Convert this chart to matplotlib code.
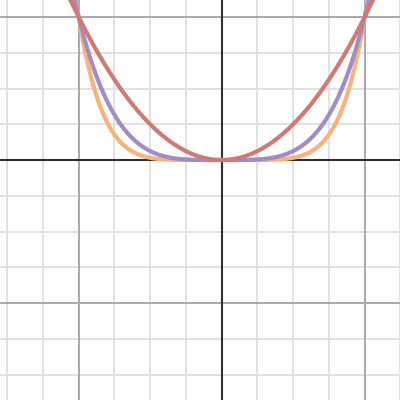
import numpy as np
import matplotlib
matplotlib.use("Agg")
import matplotlib.pyplot as plt

# Data: y = x^n curves
exponents = [6, 4, 2]
colors = ["#f8b27a", "#a18dc6", "#d07a74"]

x_min, x_max = -1.550, 1.247
y_min, y_max = -1.678, 1.119

fig = plt.figure(figsize=(4, 4), dpi=100)
ax = fig.add_axes([0, 0, 1, 1])
ax.set_xlim(x_min, x_max)
ax.set_ylim(y_min, y_max)
ax.axis("off")

# grid
minor = np.arange(-2, 2.01, 0.25)
for v in minor:
    major = abs(v - round(v)) < 1e-9
    if abs(v) < 1e-9:
        continue
    c = "#a9a9a9" if major else "#e2e2e2"
    z = 1 if major else 0
    ax.axvline(v, color=c, lw=1.4, zorder=z)
    ax.axhline(v, color=c, lw=1.4, zorder=z)
ax.axvline(0, color="#2f2f2f", lw=1.5, zorder=2)
ax.axhline(0, color="#2f2f2f", lw=1.5, zorder=2)

xs = np.linspace(x_min, x_max, 2000)
for i, (n, c) in enumerate(zip(exponents, colors)):
    ax.plot(xs, xs ** n, color=c, lw=3.0, zorder=3 + i, solid_capstyle="round")

fig.savefig("out.png", dpi=100)
